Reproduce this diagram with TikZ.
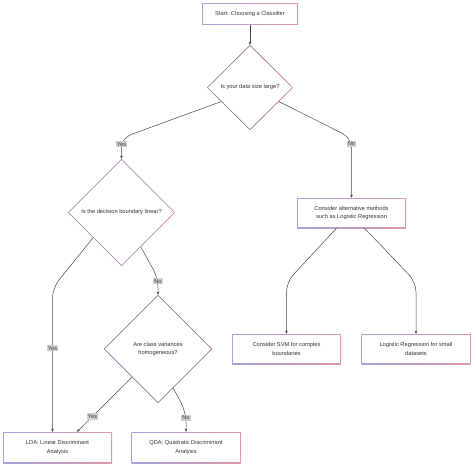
\documentclass[tikz,border=0pt]{standalone}
\usepackage{fontspec}
\setmainfont{Liberation Sans}
\usepackage{xcolor}
\usepackage{tikz}
\usetikzlibrary{arrows.meta,positioning,shapes.geometric,calc}

\definecolor{edgegray}{HTML}{444444}
\definecolor{bordleft}{HTML}{A2A2DC}
\definecolor{bordright}{HTML}{DE98AA}
\definecolor{lblgray}{HTML}{CFCFCF}

\tikzset{
    base/.style={font=\fontsize{5.7}{8.7}\selectfont, text=black!80, align=center, inner sep=0pt},
    box/.style={base, rectangle, minimum width=109pt, minimum height=30pt,
        path picture={
            \fill[left color=bordleft, right color=bordright] (path picture bounding box.south west) rectangle (path picture bounding box.north east);
            \fill[white] ([shift={(0.75pt,0.75pt)}]path picture bounding box.south west) rectangle ([shift={(-0.75pt,-0.75pt)}]path picture bounding box.north east);
        }},
    decision/.style={base, diamond, minimum width=86pt, minimum height=86pt,
        path picture={
            \fill[left color=bordleft, right color=bordright] (path picture bounding box.south west) rectangle (path picture bounding box.north east);
            \fill[white] ([yshift=-1.1pt]path picture bounding box.north) -- ([xshift=-1.1pt]path picture bounding box.east) -- ([yshift=1.1pt]path picture bounding box.south) -- ([xshift=1.1pt]path picture bounding box.west) -- cycle;
        }},
    edge/.style={draw=edgegray, line width=0.5pt, -{Stealth[length=3.2pt,width=2.8pt]}, rounded corners=10pt},
    lbl/.style={base, fill=lblgray, inner sep=1.1pt, sharp corners, text=black!75},
}

\begin{document}
\begin{tikzpicture}[x=1pt,y=-1pt]
    \useasboundingbox (0,0) rectangle (474,467);

    % Nodes
    \node[box, minimum width=96pt, minimum height=21pt] (start) at (250,14) {Start: Choosing a Classifier};
    \node[decision, minimum height=85pt] (size) at (250,87.5) {Is your data size large?};
    \node[decision, minimum width=107pt, minimum height=107pt] (linear) at (121.5,212.5) {Is the decision boundary linear?};
    \node[decision, minimum width=108pt, minimum height=108pt] (homog) at (158,349) {Are class variances\\homogeneous?};
    \node[box] (alt) at (351.5,213) {Consider alternative methods\\such as Logistic Regression};
    \node[box, minimum height=31pt] (lda) at (57.5,447.5) {LDA: Linear Discriminant\\Analysis};
    \node[box, minimum height=31pt] (qda) at (186,447.5) {QDA: Quadratic Discriminant\\Analysis};
    \node[box] (svm) at (286.5,349) {Consider SVM for complex\\boundaries};
    \node[box] (logreg) at (416,349) {Logistic Regression for small\\datasets};

    % Edges
    \draw[edge] (start) -- (size);
    \draw[edge] ($(size.west)!0.33!(size.south)$) -- (121.5,138) -- node[lbl,pos=0.3] {Yes} (linear.north);
    \draw[edge] ($(size.east)!0.33!(size.south)$) -- (351.5,138) -- node[lbl,pos=0.1] {No} (alt.north);
    \draw[edge] ($(linear.west)!0.47!(linear.south)$) -- (52.5,288) -- node[lbl,pos=0.42] {Yes} ([xshift=-5pt]lda.north);
    \draw[edge] ($(linear.east)!0.64!(linear.south)$) -- (158,278) -- node[lbl,pos=0.2] {No} (homog.north);
    \draw[edge] ($(homog.west)!0.52!(homog.south)$) -- node[lbl,pos=0.72] {Yes} ([xshift=19.5pt]lda.north);
    \draw[edge] ($(homog.east)!0.72!(homog.south)$) -- (186,412) -- node[lbl,pos=0.3] {No} (qda.north);
    \draw[edge] ([xshift=-15pt]alt.south) -- (286.5,282) -- (svm.north);
    \draw[edge] ([xshift=13pt]alt.south) -- (416,282) -- (logreg.north);
\end{tikzpicture}
\end{document}
